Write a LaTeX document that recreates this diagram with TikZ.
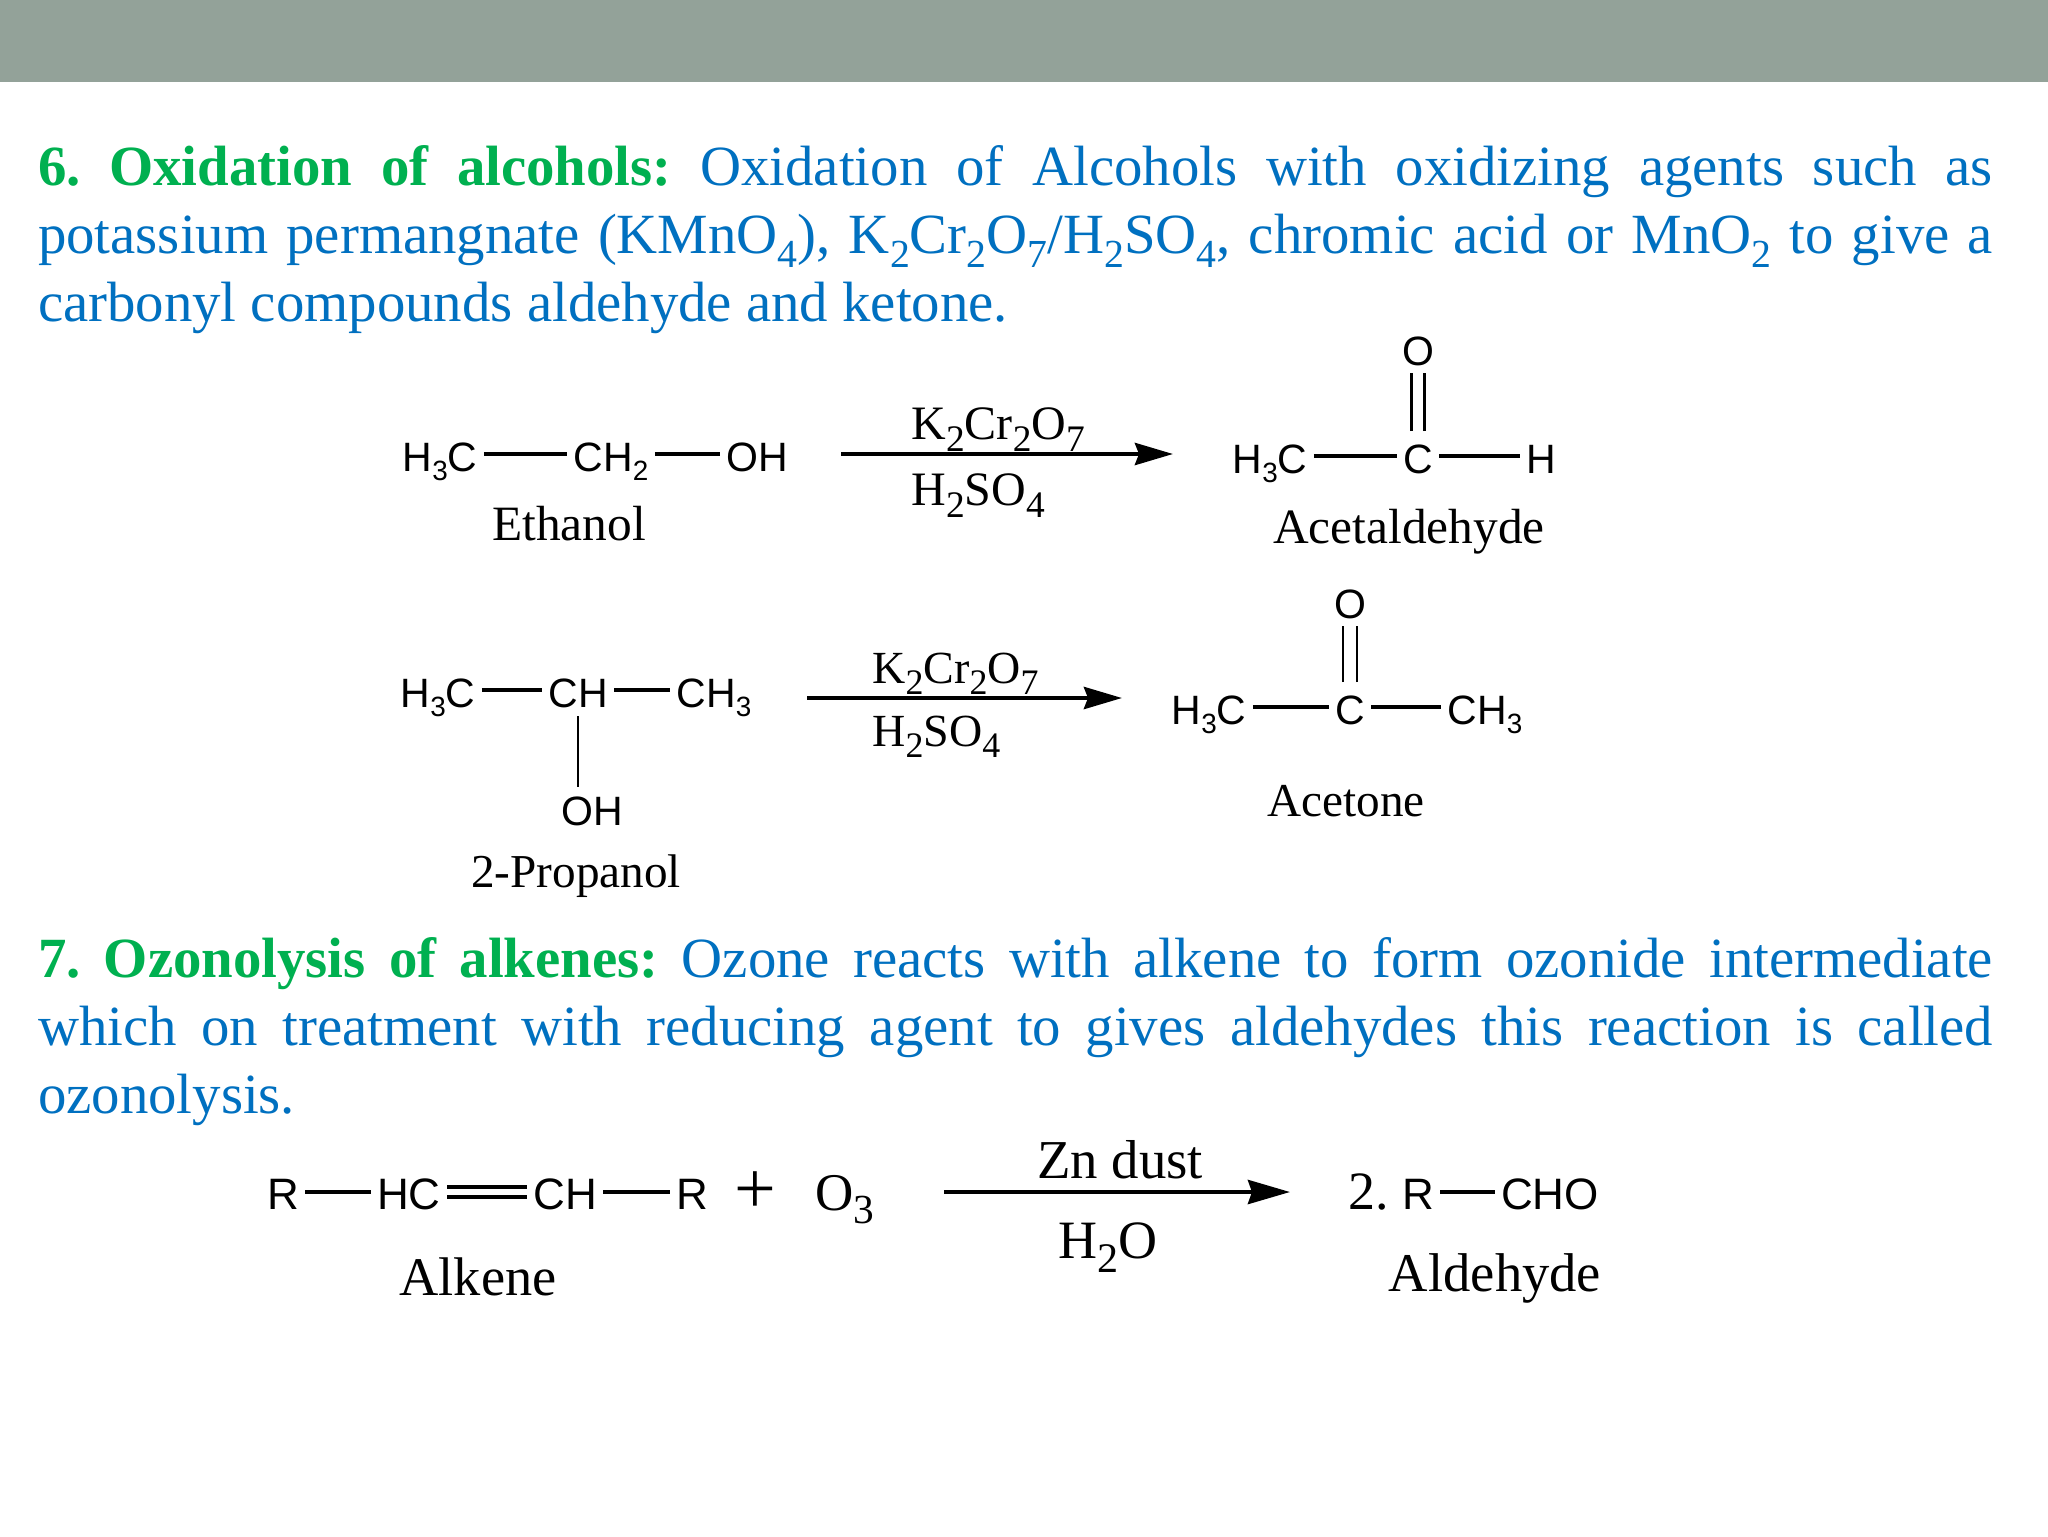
\documentclass[tikz,border=0pt]{standalone}
\usepackage{fontspec}
\setmainfont{Liberation Serif}
\newfontfamily\chemfont{Liberation Sans}
\usetikzlibrary{arrows.meta}
\definecolor{band}{HTML}{93A299}
\definecolor{bodyblue}{HTML}{0070C0}
\definecolor{headgreen}{HTML}{00B050}
\newcommand{\sbs}[1]{\raisebox{-.24em}{\scalebox{.68}{#1}}}
\newcommand{\sbt}[1]{\raisebox{-.26em}{\scalebox{.78}{#1}}}
\newcommand{\sbb}[1]{\raisebox{-.26em}{\scalebox{.7}{#1}}}
\newcommand{\jline}[1]{\makebox[977.5pt][s]{#1}}
\newcommand{\hd}[1]{{\bfseries\color{headgreen}#1}}
\frenchspacing
\tikzset{
  x=0.5pt,y=-0.5pt,
  bodyline/.style={anchor=base west,inner sep=0pt,outer sep=0pt,text=bodyblue,font=\fontsize{28.4}{34}\selectfont\frenchspacing},
  chem/.style={anchor=base,inner xsep=0pt,inner ysep=0pt,outer xsep=3.2pt,outer ysep=2pt,text height=17pt,text depth=0pt,font=\chemfont\fontsize{20.5}{24}\selectfont},
  chembig/.style={chem,font=\chemfont\fontsize{22}{26}\selectfont},
  lab/.style={anchor=base,inner sep=0pt,font=\fontsize{#1}{#1}\selectfont},
  bond/.style={line width=1.8pt},
  dbl/.style={line width=1.4pt,shorten <=2pt,shorten >=2pt},
  rarrow/.style={line width=2.2pt,-{Stealth[length=19pt,width=11pt,inset=2pt]}},
}
\begin{document}
\begin{tikzpicture}
\useasboundingbox (0,0) rectangle (2048,1536);
\fill[white] (0,0) rectangle (2048,1536);
\fill[band] (0,0) rectangle (2048,82);

% Section 6
\node[bodyline] (l1) at (38,185) {\jline{\hd{6. Oxidation of alcohols:} Oxidation of Alcohols with oxidizing agents such as}};
\node[bodyline] (l2) at (38,253) {\jline{potassium permangnate (KMnO\sbb{4}), K\sbb{2}Cr\sbb{2}O\sbb{7}/H\sbb{2}SO\sbb{4}, chromic acid or MnO\sbb{2} to give a}};
\node[bodyline] (l3) at (38,321) {carbonyl compounds aldehyde and ketone.};

% Ethanol reaction
\node[chem] (a1) at (440,471) {H\sbs{3}C};
\node[chem] (a2) at (611,471) {CH\sbs{2}};
\node[chem] (a3) at (757,471) {OH};
\draw[bond] (a1) -- (a2);
\draw[bond] (a2) -- (a3);
\node[lab=24.7] (ethanol) at (569,540) {Ethanol};
\coordinate (ar1s) at (841,454);
\coordinate (ar1e) at (1173,454);
\draw[rarrow] (ar1s) -- (ar1e);
\node[lab=24,anchor=base west] (r1t) at (911,439) {K\sbt{2}Cr\sbt{2}O\sbt{7}};
\node[lab=24,anchor=base west] (r1b) at (911,505) {H\sbt{2}SO\sbt{4}};
\node[chem] (b1) at (1270,473) {H\sbs{3}C};
\node[chem] (b2) at (1418,473) {C};
\node[chem] (b3) at (1541,473) {H};
\node[chem] (b4) at (1418,365) {O};
\draw[bond] (b1) -- (b2);
\draw[bond] (b2) -- (b3);
\draw[dbl] ([xshift=-3.2pt]b2.north) -- ([xshift=-3.2pt]b4.south);
\draw[dbl] ([xshift=3.2pt]b2.north) -- ([xshift=3.2pt]b4.south);
\node[lab=24.7] (acetald) at (1409,543) {Acetaldehyde};

% Propanol reaction
\node[chem] (c1) at (438,707) {H\sbs{3}C};
\node[chem] (c2) at (578,707) {CH};
\node[chem] (c3) at (714,707) {CH\sbs{3}};
\node[chem] (c4) at (592,825) {OH};
\draw[bond] (c1) -- (c2);
\draw[bond] (c2) -- (c3);
\draw[line width=1.4pt,shorten <=2.5pt] (c2.south) -- (c2.south |- c4.north);
\node[lab=23.6] (prop) at (576,887) {2-Propanol};
\coordinate (ar2s) at (807,698);
\coordinate (ar2e) at (1122,698);
\draw[rarrow] (ar2s) -- (ar2e);
\node[lab=23,anchor=base west] (r2t) at (872,683) {K\sbt{2}Cr\sbt{2}O\sbt{7}};
\node[lab=23,anchor=base west] (r2b) at (872,746) {H\sbt{2}SO\sbt{4}};
\node[chem] (d1) at (1209,724) {H\sbs{3}C};
\node[chem] (d2) at (1350,724) {C};
\node[chem] (d3) at (1485,724) {CH\sbs{3}};
\node[chem] (d4) at (1350,618) {O};
\draw[bond] (d1) -- (d2);
\draw[bond] (d2) -- (d3);
\draw[dbl] ([xshift=-3.5pt]d2.north) -- ([xshift=-3.5pt]d4.south);
\draw[dbl] ([xshift=3.5pt]d2.north) -- ([xshift=3.5pt]d4.south);
\node[lab=23.6] (acetone) at (1346,816) {Acetone};

% Section 7
\node[bodyline] (m1) at (38,977) {\jline{\hd{7. Ozonolysis of alkenes:} Ozone reacts with alkene to form ozonide intermediate}};
\node[bodyline] (m2) at (38,1045) {\jline{which on treatment with reducing agent to gives aldehydes this reaction is called}};
\node[bodyline] (m3) at (38,1113) {ozonolysis.};

% Ozonolysis reaction
\node[chembig] (e1) at (283,1209) {R};
\node[chembig] (e2) at (409,1209) {HC};
\node[chembig] (e3) at (565,1209) {CH};
\node[chembig] (e4) at (692,1209) {R};
\draw[bond] (e1) -- (e2);
\draw[line width=2pt] ([yshift=2.4pt]e2.east) -- ([yshift=2.4pt]e3.west);
\draw[line width=2pt] ([yshift=-2.4pt]e2.east) -- ([yshift=-2.4pt]e3.west);
\draw[bond] (e3) -- (e4);
\node[lab=37] (plus) at (755,1213) {+};
\node[lab=26.5] (o3) at (845,1210) {O\sbt{3}};
\coordinate (ar3s) at (944,1192);
\coordinate (ar3e) at (1290,1192);
\draw[rarrow,-{Stealth[length=21pt,width=12pt,inset=2pt]}] (ar3s) -- (ar3e);
\node[lab=27.4] (zn) at (1120,1178) {Zn dust};
\node[lab=27] (h2o) at (1108,1258) {H\sbt{2}O};
\node[lab=27] (two) at (1369,1209) {2.};
\node[chembig] (f1) at (1418,1209) {R};
\node[chembig] (f2) at (1550,1209) {CHO};
\draw[bond] (f1) -- (f2);
\node[lab=27.2] (alkene) at (478,1295) {Alkene};
\node[lab=27.3] (aldehyde) at (1495,1291) {Aldehyde};
\end{tikzpicture}
\end{document}
